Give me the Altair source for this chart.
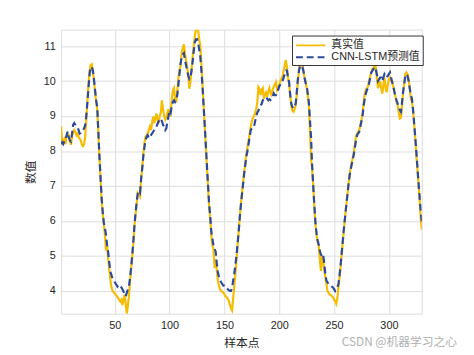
import altair as alt
import pandas as pd

# ---- data (sample index 1..330) ----
actual_vals = [
    # 1-25
    8.7, 8.25, 8.3, 8.35, 8.2, 8.4, 8.5, 8.45, 8.3, 8.18, 8.4, 8.55, 8.6, 8.55, 8.45, 8.5, 8.4, 8.35, 8.3, 8.18, 8.14, 8.2, 8.42, 8.9, 9.4,
    # 26-40
    9.9, 10.3, 10.45, 10.48, 10.3, 10.0, 9.7, 9.4, 9.2, 8.5, 7.8, 7.2, 6.6, 6.2, 5.9,
    # 41-62
    5.6, 5.15, 5.3, 4.9, 4.6, 4.3, 4.1, 4.0, 3.97, 3.93, 3.88, 3.85, 3.8, 3.75, 3.7, 3.75, 3.6, 3.75, 3.9, 3.6, 3.35, 3.6,
    # 63-80
    3.9, 4.3, 4.66, 5.0, 5.4, 5.88, 6.2, 6.5, 6.8, 6.75, 6.7, 7.2, 7.5, 7.9, 8.23, 8.4, 8.45, 8.5,
    # 81-110
    8.6, 8.7, 8.6, 8.8, 8.98, 8.79, 8.95, 9.07, 8.9, 8.79, 9.0, 9.1, 9.45, 9.2, 9.0, 8.9, 8.97, 9.1, 9.2, 8.98,
    9.1, 9.5, 9.73, 9.8, 9.5, 9.4, 9.7, 10.1, 10.3, 10.45,
    # 111-130
    10.8, 10.95, 11.05, 10.8, 10.6, 10.4, 10.2, 9.78, 10.0, 10.3, 10.7, 11.0, 11.3, 11.47, 11.47, 11.45, 11.2, 11.0, 10.5, 9.9,
    # 131-160
    9.3, 8.71, 8.15, 7.57, 7.0, 6.45, 6.1, 5.6, 5.3, 5.2, 4.66, 4.9, 4.6, 4.3, 4.15, 4.05, 4.0, 3.98, 3.95, 3.9,
    3.85, 3.82, 3.78, 3.72, 3.6, 3.5, 3.44, 3.8, 4.15, 4.47,
    # 161-180
    4.9, 5.3, 5.69, 6.1, 6.5, 6.8, 7.1, 7.4, 7.65, 7.9, 8.1, 8.3, 8.5, 8.7, 8.85, 8.95, 9.0, 9.1, 9.2, 9.4,
    # 181-206
    9.83, 9.78, 9.6, 9.75, 9.8, 9.5, 9.6, 9.67, 9.55, 9.7, 9.8, 9.65, 9.6, 9.75, 9.85, 9.9, 9.97, 9.75, 9.83, 9.9,
    10.0, 10.06, 10.15, 10.3, 10.45, 10.6,
    # 207-230
    10.4, 10.1, 9.9, 9.6, 9.3, 9.15, 9.12, 9.2, 9.3, 9.6, 10.0, 10.3, 10.53, 10.6, 10.5, 10.3, 10.1, 10.0, 9.8, 9.6,
    9.3, 8.6, 7.77, 7.5,
    # 231-260
    7.0, 6.4, 5.9, 5.6, 5.4, 5.3, 4.9, 4.57, 5.0, 4.9, 4.6, 4.4, 4.2, 4.0, 3.95, 3.9, 3.88, 3.85, 3.82, 3.75,
    3.7, 3.63, 3.8, 4.1, 4.38, 4.7, 5.05, 5.4, 5.75, 6.1,
    # 261-285
    6.4, 6.7, 7.0, 7.29, 7.5, 7.65, 7.8, 7.95, 8.2, 8.42, 8.5, 8.55, 8.6, 8.75, 8.9, 9.07, 9.4, 9.64, 9.75, 9.8,
    9.85, 10.0, 10.15, 10.25, 10.35,
    # 286-330
    10.34, 10.5, 10.4, 10.1, 9.8, 9.9, 10.0, 9.8, 9.64, 9.9, 10.1, 9.8, 9.68, 9.9, 10.05, 10.1, 10.0, 9.97, 9.85, 9.7,
    9.55, 9.4, 9.3, 9.1, 8.93, 8.95, 9.3, 9.7, 9.92, 10.2, 10.25, 10.2, 10.05, 9.8, 9.5, 9.4, 9.2, 8.8, 8.4, 7.9,
    7.5, 7.1, 6.6, 6.1, 5.75,
]

predicted_vals = [
    # 1-25
    8.2, 8.25, 8.2, 8.28, 8.32, 8.45, 8.56, 8.4, 8.3, 8.27, 8.5, 8.75, 8.8, 8.75, 8.7, 8.68, 8.6, 8.5, 8.52, 8.58, 8.6, 8.65, 8.74, 9.0, 9.4,
    # 26-40
    9.8, 10.2, 10.4, 10.4, 10.3, 10.05, 9.75, 9.45, 9.25, 8.55, 7.85, 7.25, 6.65, 6.25, 5.95,
    # 41-62
    5.8, 5.6, 5.3, 5.1, 4.8, 4.55, 4.45, 4.35, 4.3, 4.25, 4.2, 4.15, 4.1, 4.08, 4.05, 4.1, 4.05, 3.98, 3.9, 3.85, 3.95, 4.05,
    # 63-80
    4.15, 4.4, 4.7, 5.05, 5.45, 5.9, 6.25, 6.55, 6.8, 6.85, 6.8, 7.2, 7.5, 7.85, 8.1, 8.3, 8.4, 8.45,
    # 81-110
    8.38, 8.37, 8.45, 8.5, 8.55, 8.6, 8.65, 8.7, 8.78, 8.85, 8.82, 8.9, 8.85, 8.75, 8.7, 8.6, 8.65, 8.85, 9.0, 9.17,
    9.1, 9.3, 9.4, 9.45, 9.4, 9.45, 9.6, 9.9, 10.2, 10.5,
    # 111-130
    10.7, 10.76, 10.8, 10.6, 10.45, 10.3, 10.15, 10.06, 10.1, 10.3, 10.55, 10.85, 11.1, 11.19, 11.2, 11.1, 10.9, 10.7, 10.3, 9.85,
    # 131-160
    9.3, 8.75, 8.2, 7.6, 7.05, 6.5, 6.15, 5.7, 5.5, 5.3, 5.2, 5.13, 4.8, 4.55, 4.4, 4.3, 4.25, 4.2, 4.15, 4.15,
    4.1, 4.08, 4.05, 4.02, 4.0, 4.0, 4.1, 4.3, 4.5, 4.75,
    # 161-180
    5.0, 5.35, 5.7, 6.1, 6.45, 6.75, 7.05, 7.35, 7.6, 7.85, 8.0, 8.2, 8.4, 8.6, 8.65, 8.7, 8.7, 8.85, 9.0, 9.1,
    # 181-206
    9.15, 9.25, 9.3, 9.35, 9.45, 9.5, 9.52, 9.54, 9.5, 9.45, 9.48, 9.46, 9.5, 9.55, 9.65, 9.6, 9.6, 9.68, 9.75, 9.85,
    9.9, 9.95, 10.0, 10.1, 10.2, 10.3,
    # 207-230
    10.3, 10.1, 9.97, 9.6, 9.35, 9.26, 9.22, 9.3, 9.35, 9.7, 10.06, 10.3, 10.44, 10.45, 10.4, 10.3, 10.1, 9.95, 9.87, 9.65,
    9.4, 8.9, 8.4, 7.6,
    # 231-260
    7.0, 6.45, 5.95, 5.65, 5.45, 5.32, 5.15, 5.04, 5.0, 5.05, 4.8, 4.5, 4.3, 4.25, 4.2, 4.18, 4.15, 4.12, 4.1, 4.05,
    4.0, 4.05, 4.1, 4.2, 4.45, 4.75, 5.1, 5.45, 5.8, 6.1,
    # 261-285
    6.4, 6.7, 7.0, 7.25, 7.45, 7.6, 7.75, 7.9, 8.1, 8.3, 8.45, 8.5, 8.55, 8.7, 8.85, 9.0, 9.3, 9.5, 9.65, 9.75,
    9.8, 9.95, 10.1, 10.25, 10.3,
    # 286-330
    10.35, 10.4, 10.35, 10.2, 10.0, 10.05, 10.1, 10.1, 10.0, 10.1, 10.2, 10.15, 10.1, 10.15, 10.2, 10.25, 10.1, 9.97, 9.85, 9.7,
    9.55, 9.45, 9.36, 9.25, 9.17, 9.12, 9.4, 9.7, 9.92, 10.15, 10.2, 10.15, 10.0, 9.8, 9.6, 9.5, 9.2, 8.8, 8.42, 8.0,
    7.55, 7.1, 6.7, 6.3, 5.97,
]

series_names = ["真实值", "CNN-LSTM预测值"]
series_colors = ["#F5BC00", "#2C4A9C"]
x_ticks = [50, 100, 150, 200, 250, 300]
y_ticks = [4, 5, 6, 7, 8, 9, 10, 11]
x_title = "样本点"
y_title = "数值"
watermark = "CSDN @机器学习之心"

n = min(len(actual_vals), len(predicted_vals))
samples = list(range(1, n + 1))
df = pd.DataFrame({
    "样本": samples * 2,
    "值": actual_vals[:n] + predicted_vals[:n],
    "系列": [series_names[0]] * n + [series_names[1]] * n,
})

all_vals = actual_vals[:n] + predicted_vals[:n]
ymin, ymax = min(all_vals), max(all_vals)

FONT = "Liberation Sans, Arial, Noto Sans CJK SC"
CJK = "Noto Sans CJK SC"

x_enc = alt.X("样本:Q",
              scale=alt.Scale(domain=[1, n], nice=False, zero=False),
              axis=alt.Axis(values=x_ticks, title=x_title, grid=True, ticks=False,
                            labelFont=FONT, labelFontSize=11, labelColor="#262626",
                            labelPadding=6, titleFont=CJK, titleFontSize=12,
                            titleFontWeight="normal", titleColor="#262626", titlePadding=7,
                            domain=False))
y_enc = alt.Y("值:Q",
              scale=alt.Scale(domain=[ymin, ymax], nice=False, zero=False),
              axis=alt.Axis(values=y_ticks, title=y_title, grid=True, ticks=False,
                            labelFont=FONT, labelFontSize=11, labelColor="#262626",
                            labelPadding=6, titleFont=CJK, titleFontSize=12,
                            titleFontWeight="normal", titleColor="#262626", titlePadding=6,
                            domain=False))
color_enc = alt.Color("系列:N",
                      scale=alt.Scale(domain=series_names, range=series_colors),
                      legend=alt.Legend(title=None, orient="none", legendX=235, legendY=6,
                                        fillColor="white", strokeColor="#333333",
                                        padding=3, symbolType="M-1,0L4,0", symbolSize=144,
                                        symbolStrokeWidth=2, symbolFillColor="transparent",
                                        labelFont=FONT,
                                        labelFontSize=11, labelColor="#262626",
                                        rowPadding=0, labelOffset=23))
dash_enc = alt.StrokeDash("系列:N",
                          scale=alt.Scale(domain=series_names, range=[[1, 0], [7, 4]]),
                          legend=None)

base = alt.Chart(df).encode(x=x_enc, y=y_enc, color=color_enc, strokeDash=dash_enc)

actual_line = base.transform_filter(alt.datum["系列"] == series_names[0]).mark_line(
    strokeWidth=2.2, clip=True)
pred_line = base.transform_filter(alt.datum["系列"] == series_names[1]).mark_line(
    strokeWidth=2.2, clip=True)

wm = alt.Chart(pd.DataFrame({"t": [watermark]})).mark_text(
    font=CJK, fontSize=12, color="#B0B0B0", align="right", baseline="middle"
).encode(text="t:N", x=alt.value(403), y=alt.value(318))

chart = alt.layer(actual_line, pred_line, wm).properties(
    width=367, height=289,
    autosize=alt.AutoSizeParams(type="none"),
    padding={"left": 54, "top": 19, "right": 45, "bottom": 38},
).configure_view(
    stroke="#262626", strokeWidth=1
).configure_axis(
    gridColor="#E6E6E6", gridWidth=1
).configure(background="white")

chart.save("out.html", embed_options={"renderer": "svg", "actions": False})
